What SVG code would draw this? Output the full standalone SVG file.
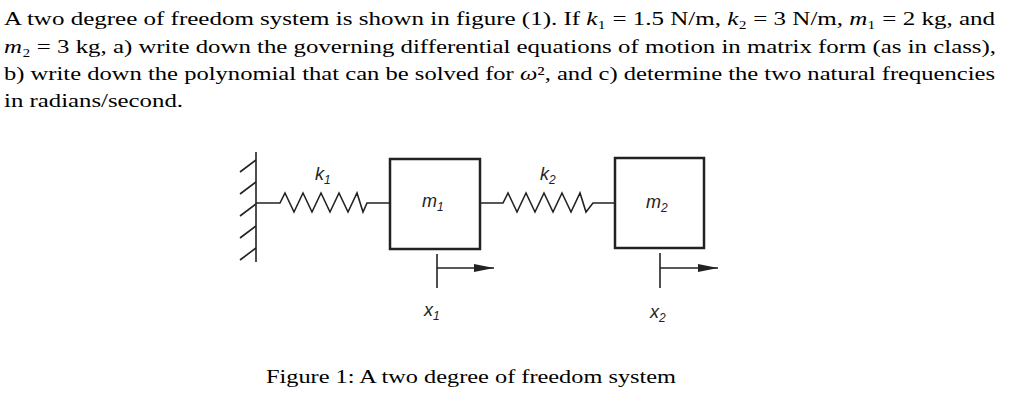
<svg xmlns="http://www.w3.org/2000/svg" width="1024" height="408" viewBox="0 0 1024 408">
<style>
.t{font-family:"Liberation Serif",serif;font-size:19.5px;fill:#000}
.i{font-style:italic}
.l{font-family:"Liberation Sans",sans-serif;font-style:italic;font-size:18px;fill:#222}
.s{font-size:12px}
.ln{stroke:#222;stroke-width:1.6;fill:none}
.bx{stroke:#222;stroke-width:2.5;fill:#fff}
</style>
<defs><marker id="ah" markerWidth="20" markerHeight="10" refX="20" refY="5" orient="auto" markerUnits="userSpaceOnUse" viewBox="0 0 20 10"><path d="M0,1 L20,5 L0,9 Z" fill="#222"/></marker></defs>
<rect width="1024" height="408" fill="#fff"/>
<g id="problem-text">
<text class="t" x="4" y="25" textLength="991" lengthAdjust="spacingAndGlyphs">A two degree of freedom system is shown in figure (1). If <tspan class="i">k</tspan>₁ = 1.5 N/m, <tspan class="i">k</tspan>₂ = 3 N/m, <tspan class="i">m</tspan>₁ = 2 kg, and</text>
<text class="t" x="4" y="53" textLength="992" lengthAdjust="spacingAndGlyphs"><tspan class="i">m</tspan>₂ = 3 kg, a) write down the governing differential equations of motion in matrix form (as in class),</text>
<text class="t" x="4" y="80" textLength="991" lengthAdjust="spacingAndGlyphs">b) write down the polynomial that can be solved for <tspan class="i">ω</tspan>², and c) determine the two natural frequencies</text>
<text class="t" x="4" y="107" textLength="179" lengthAdjust="spacingAndGlyphs">in radians/second.</text>
</g>
<g id="wall">
<line class="ln" x1="256" y1="152" x2="256" y2="262"/>
<path class="ln" d="M256,160 L240,172 M256,182 L240,194 M256,204 L240,216 M256,226 L240,238 M256,248 L240,260"/>
</g>
<g id="connectors">
<path class="ln" d="M256,203 H280 L285,193 L294,212 L303,193 L312,212 L321,193 L330,212 L339,193 L348,212 L357,193 L363,212 L367,203 H390"/>
<path class="ln" d="M480,203 H503 L508,193 L517,212 L526,193 L535,212 L544,193 L553,212 L562,193 L571,212 L580,193 L586,212 L593,203 H615"/>
<line class="ln" x1="437" y1="254" x2="437" y2="288"/>
<line class="ln" x1="437" y1="268" x2="494" y2="268" marker-end="url(#ah)"/>
<line class="ln" x1="660" y1="253" x2="660" y2="288"/>
<line class="ln" x1="660" y1="268" x2="718" y2="268" marker-end="url(#ah)"/>
</g>
<g id="k1"><text class="l" x="315" y="180">k<tspan class="s" dy="4">1</tspan></text></g>
<g id="m1"><rect class="bx" x="390" y="159" width="90" height="90"/><text class="l" x="422" y="207">m<tspan class="s" dy="4">1</tspan></text></g>
<g id="k2"><text class="l" x="540" y="180">k<tspan class="s" dy="4">2</tspan></text></g>
<g id="m2"><rect class="bx" x="615" y="158" width="89" height="90"/><text class="l" x="646" y="208">m<tspan class="s" dy="4">2</tspan></text></g>
<g id="x1"><text class="l" x="424" y="316">x<tspan class="s" dy="4">1</tspan></text></g>
<g id="x2"><text class="l" x="650" y="318">x<tspan class="s" dy="4">2</tspan></text></g>
<g id="caption"><text class="t" x="266" y="383" textLength="410" lengthAdjust="spacingAndGlyphs">Figure 1: A two degree of freedom system</text></g>
</svg>
